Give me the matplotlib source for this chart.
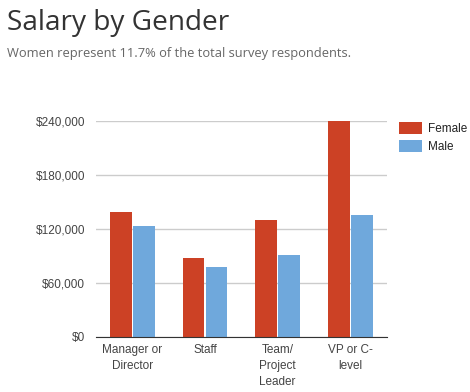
import matplotlib.pyplot as plt
import numpy as np
from matplotlib.ticker import FuncFormatter

categories = ["Manager or\nDirector", "Staff", "Team/\nProject\nLeader", "VP or C-\nlevel"]
female = [139000, 88000, 130000, 240000]
male = [123500, 78000, 91000, 136000]
yticks = [0, 60000, 120000, 180000, 240000]

red = "#cc4125"
blue = "#6fa8dc"

fig = plt.figure(figsize=(4.7, 3.92), dpi=100)
ax = fig.add_axes([96 / 470, 1 - 337 / 392, 290.7 / 470, (337 - 121.3) / 392])

x = np.arange(len(categories))
w = 0.30
ax.bar(x - w / 2 - 0.008, female, w, color=red, label="Female", zorder=3)
ax.bar(x + w / 2 + 0.008, male, w, color=blue, label="Male", zorder=3)

ax.set_xlim(-0.5, len(categories) - 0.5)
ax.set_ylim(0, 240000)
ax.set_yticks(yticks)
ax.yaxis.set_major_formatter(FuncFormatter(lambda v, p: "${:,.0f}".format(v)))
ax.set_xticks(x)
ax.set_xticklabels(categories, linespacing=1.45)

ax.grid(axis="y", color="#cccccc", linewidth=1, zorder=0)
for s in ["top", "right", "left"]:
    ax.spines[s].set_visible(False)
ax.spines["bottom"].set_color("#333333")
ax.spines["bottom"].set_zorder(4)
ax.tick_params(length=0, labelsize=8.5, labelcolor="#444444", pad=5)
ax.tick_params(axis="y", pad=8)
for t in ax.get_xticklabels() + ax.get_yticklabels():
    t.set_family("Liberation Sans")

ax.legend(loc="upper left", bbox_to_anchor=(1.005, 1.045), frameon=False,
          prop={"family": "Liberation Sans", "size": 8.5}, labelcolor="#222222",
          handlelength=2.0, handleheight=1.1, handletextpad=0.45, labelspacing=0.45)

fig.text(7 / 470, 1 - 30 / 392, "Salary by Gender", family="Open Sans", fontsize=20.2,
         color="#333333")
fig.text(7 / 470, 1 - 57 / 392, "Women represent 11.7% of the total survey respondents.",
         family="Open Sans", fontsize=9.3, color="#666666")

fig.savefig("out.png", dpi=100)
